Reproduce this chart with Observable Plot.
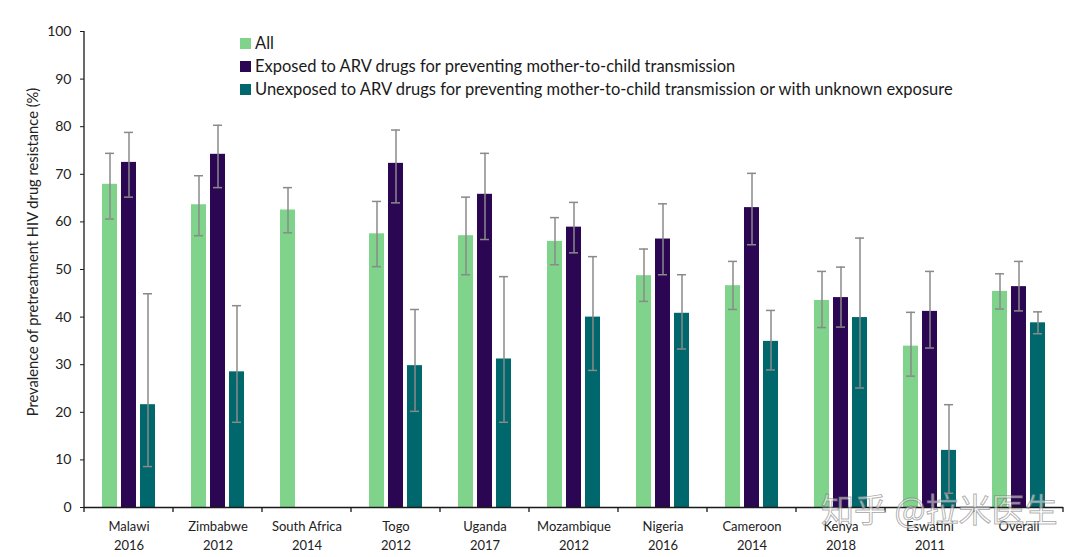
<!DOCTYPE html>
<html><head><meta charset="utf-8">
<script src="https://cdn.jsdelivr.net/npm/d3@7"></script>
<script src="https://cdn.jsdelivr.net/npm/@observablehq/plot@0.6"></script>
<style>
body{margin:0;background:#fff;font-family:Lato,"Open Sans",sans-serif;}
#wrap{position:relative;width:1080px;height:557px;overflow:hidden;}
#legend{position:absolute;left:240px;top:32px;font-size:16.5px;color:#1a1a1a;}
#legend .row{height:23px;line-height:23px;white-space:nowrap;display:flex;align-items:center;}
#legend .sw{width:11px;height:11px;margin-right:4px;display:inline-block;}
#ytitle{position:absolute;left:32px;top:252px;transform:translate(-50%,-50%) rotate(-90deg);font-size:14.7px;color:#222;white-space:nowrap;}
#wm{position:absolute;left:821px;top:484px;font-family:"Noto Sans CJK SC",sans-serif;font-size:33px;color:rgba(255,255,255,0.55);-webkit-text-stroke:1px rgba(110,110,110,0.55);white-space:nowrap;}
</style></head><body>
<div id="wrap"></div>
<script>
const countries = ["Malawi\n2016","Zimbabwe\n2012","South Africa\n2014","Togo\n2012","Uganda\n2017","Mozambique\n2012","Nigeria\n2016","Cameroon\n2014","Kenya\n2018","Eswatini\n2011","Overall"];
const seriesNames = ["All","Exposed to ARV drugs for preventing mother-to-child transmission","Unexposed to ARV drugs for preventing mother-to-child transmission or with unknown exposure"];
const seriesColors = ["#7fd38b","#2b0652","#00676c"];

const allVal  = [67.9, 63.6, 62.5, 57.5, 57.1, 55.9, 48.7, 46.6, 43.5, 33.9, 45.4];
const allLo   = [60.6, 57.1, 57.7, 50.6, 48.9, 51.0, 43.3, 41.6, 37.8, 27.6, 41.7];
const allHi   = [74.4, 69.7, 67.2, 64.3, 65.2, 60.9, 54.3, 51.7, 49.6, 41.0, 49.1];

const expVal  = [72.5, 74.2, null, 72.3, 65.8, 58.9, 56.4, 63.0, 44.1, 41.2, 46.4];
const expLo   = [65.2, 67.2, null, 64.0, 56.3, 53.5, 48.9, 55.2, 37.9, 33.5, 41.3];
const expHi   = [78.8, 80.3, null, 79.3, 74.4, 64.1, 63.8, 70.2, 50.5, 49.6, 51.7];

const unexVal = [21.6, 28.5, null, 29.8, 31.2, 40.0, 40.8, 34.9, 39.9, 12.0, 38.8];
const unexLo  = [8.6, 17.9, null, 20.2, 17.9, 28.8, 33.3, 28.9, 25.1, 3.0, 36.5];
const unexHi  = [44.9, 42.4, null, 41.6, 48.5, 52.7, 48.9, 41.4, 56.6, 21.6, 41.1];

const yTicks = [0,10,20,30,40,50,60,70,80,90,100];

const seriesData = [[allVal,allLo,allHi],[expVal,expLo,expHi],[unexVal,unexLo,unexHi]];
const rows = [];
countries.forEach((c,i)=>{
  seriesData.forEach((s,j)=>{
    if (s[0][i] != null) rows.push({country:c, series:seriesNames[j], value:s[0][i], lo:s[1][i], hi:s[2][i]});
  });
});

const errColor = "#8a8a8a";
const chart = Plot.plot({
  width:1080, height:557,
  marginLeft:82, marginRight:16, marginTop:31, marginBottom:50,
  style:{fontFamily:"Lato, 'Open Sans', sans-serif", fontSize:"13px", color:"#222", background:"white", overflow:"visible"},
  fx:{domain:countries, padding:0, label:null, axis:null},
  x:{domain:seriesNames, paddingInner:0.21, paddingOuter:0.88, axis:null},
  y:{domain:[0,100], label:null},
  color:{domain:seriesNames, range:seriesColors},
  marks:[
    Plot.barY(rows,{fx:"country", x:"series", y:"value", fill:"series"}),
    Plot.ruleX(rows,{fx:"country", x:"series", y1:"lo", y2:"hi", stroke:errColor, strokeWidth:1.5}),
    Plot.tickY(rows,{fx:"country", x:"series", y:"lo", stroke:errColor, strokeWidth:1.5, insetLeft:3, insetRight:3}),
    Plot.tickY(rows,{fx:"country", x:"series", y:"hi", stroke:errColor, strokeWidth:1.5, insetLeft:3, insetRight:3}),
    Plot.ruleY([0],{stroke:"#1a1a1a", strokeWidth:1.3}),
    Plot.axisY({ticks:yTicks, tickSize:4, tickPadding:9, fontSize:14, label:null, stroke:"#1a1a1a"}),
    Plot.axisFx({anchor:"bottom", tickSize:0, tickPadding:10, lineHeight:1.45, fontSize:13, label:null})
  ]
});

document.getElementById("wrap").appendChild(chart);

// axis line and group-boundary ticks, from the plot's own scales
const fx = chart.scale("fx"), ys = chart.scale("y");
const svg = d3.select(chart);
const y0 = ys.apply(0), y100 = ys.apply(100);
const x0 = fx.apply(countries[0]);
svg.append("line").attr("x1",x0).attr("x2",x0).attr("y1",y0).attr("y2",y100).attr("stroke","#1a1a1a").attr("stroke-width",1.3);
const bounds = countries.map(c=>fx.apply(c)).concat([fx.apply(countries[countries.length-1]) + fx.bandwidth]);
svg.append("g").selectAll("line").data(bounds).join("line")
  .attr("x1",d=>d).attr("x2",d=>d).attr("y1",y0).attr("y2",y0+5)
  .attr("stroke","#1a1a1a").attr("stroke-width",1.3);

// legend
const wrap = document.getElementById("wrap");
const legend = document.createElement("div");
legend.id = "legend";
seriesNames.forEach((n,i)=>{
  const r = document.createElement("div"); r.className="row";
  const sw = document.createElement("span"); sw.className="sw"; sw.style.background = seriesColors[i];
  r.appendChild(sw); r.appendChild(document.createTextNode(n));
  legend.appendChild(r);
});
wrap.appendChild(legend);

const yt = document.createElement("div"); yt.id="ytitle";
yt.textContent = "Prevalence of pretreatment HIV drug resistance (%)";
wrap.appendChild(yt);

const wm = document.createElement("div"); wm.id="wm"; wm.textContent = "知乎 @拉米医生";
wrap.appendChild(wm);
</script>
</body></html>
